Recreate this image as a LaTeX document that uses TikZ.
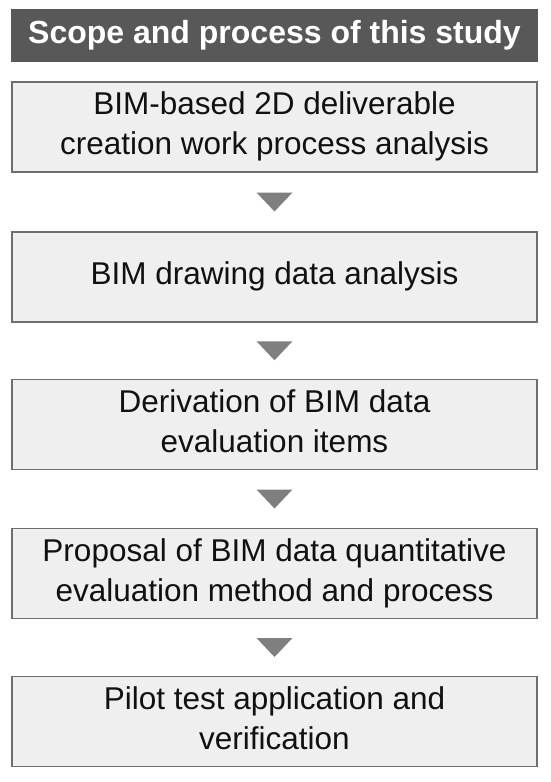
\documentclass[tikz,border=0pt]{standalone}
\usepackage{fontspec}
\setmainfont{Liberation Sans}
\usetikzlibrary{calc}
\definecolor{hdrfill}{HTML}{585858}
\definecolor{boxfill}{HTML}{EFEFEF}
\definecolor{boxline}{HTML}{6E6E6E}
\definecolor{arrowfill}{HTML}{7F7F7F}
\definecolor{txt}{HTML}{111111}
\newcommand\bxs{\rule[-7pt]{0pt}{29.5pt}}
\tikzset{
  header/.style={fill=hdrfill, draw=none, minimum width=527pt, minimum height=53pt,
    inner sep=0pt, text=white, font=\fontsize{32}{36}\selectfont\bfseries},
  stepbox/.style={fill=boxfill, draw=boxline, line width=1.8pt, minimum width=525pt,
    minimum height=90pt, inner sep=0pt, align=center, text=txt,
    font=\fontsize{31.5}{40}\selectfont},
  flowtri/.style={fill=arrowfill, draw=none}
}
\begin{document}
\begin{tikzpicture}[x=1pt,y=1pt]
\useasboundingbox (0,0) rectangle (550,-782);
\node[header] (hdr) at (274.5,-35.5) {\rule[-6.5pt]{0pt}{29.5pt}Scope and process of this study};
\node[stepbox] (b1) at (274.5,-127) {\bxs BIM-based 2D deliverable\\\bxs creation work process analysis};
\node[stepbox] (b2) at (274.5,-277) {\bxs BIM drawing data analysis};
\node[stepbox] (b3) at (274.5,-424.5) {\bxs Derivation of BIM data\\\bxs evaluation items};
\node[stepbox] (b4) at (274.5,-573.5) {\bxs Proposal of BIM data quantitative\\\bxs evaluation method and process};
\node[stepbox] (b5) at (274.5,-721.5) {\bxs Pilot test application and\\\bxs verification};
\foreach \a/\b in {b1/b2,b2/b3,b3/b4,b4/b5}{
  \coordinate (m\a) at ($(\a.south)!0.5!(\b.north)$);
  \fill[flowtri] ($(m\a)+(-18,9.5)$) -- ($(m\a)+(18,9.5)$) -- ($(m\a)+(0,-9.5)$) -- cycle;
}
\end{tikzpicture}
\end{document}
